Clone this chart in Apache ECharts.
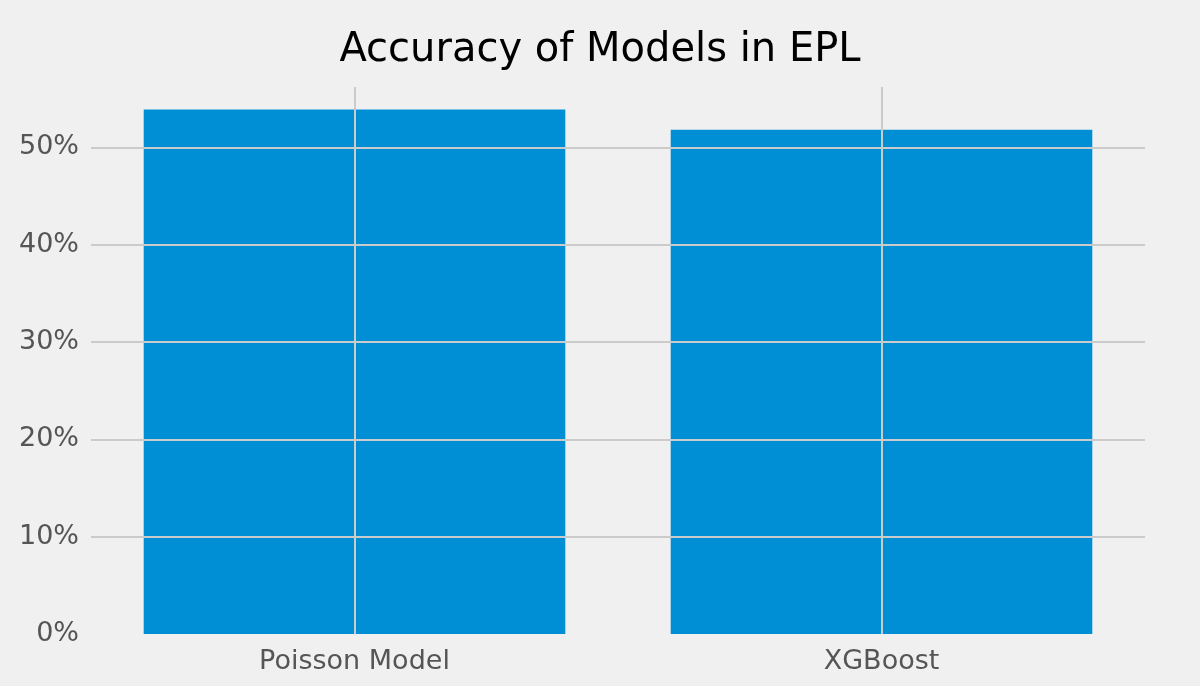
<!DOCTYPE html>
<html><head><meta charset="utf-8">
<script src="https://cdn.jsdelivr.net/npm/echarts@6/dist/echarts.min.js"></script>
<style>html,body{margin:0;padding:0;background:#f0f0f0}#c{width:1200px;height:686px}</style>
</head><body><div id="c"></div>
<script>
const categories = ['Poisson Model', 'XGBoost'];
const accuracy = [53.9, 51.8];
const yTicks = [0, 10, 20, 30, 40, 50];
const chart = echarts.init(document.getElementById('c'));
chart.setOption({
  backgroundColor: '#f0f0f0',
  textStyle: { fontFamily: 'DejaVu Sans' },
  title: { text: 'Accuracy of Models in EPL', left: 'center', top: 26,
    textStyle: { fontFamily: 'DejaVu Sans', fontSize: 40, fontWeight: 'normal', color: '#000' } },
  grid: { left: 91, right: 55, top: 87, bottom: 52 },
  xAxis: { type: 'category', data: categories,
    axisLine: { show: false }, axisTick: { show: false },
    axisLabel: { fontSize: 27, color: '#555', margin: 14 } },
  yAxis: { type: 'value', min: 0, max: 56.2, interval: 10,
    axisLine: { show: false }, axisTick: { show: false },
    axisLabel: { fontSize: 27, color: '#555', margin: 12,
      formatter: v => yTicks.includes(Math.round(v*1000)/1000) ? v + '%' : '' },
    splitLine: { show: false } },
  series: [
    { type: 'line', data: [], silent: true, z: 1,
      markLine: { symbol: 'none', silent: true, label: { show: false },
        lineStyle: { color: '#cbcbcb', width: 2, type: 'solid' },
        data: yTicks.slice(1).map(v => ({ yAxis: v })).concat(categories.map(c => ({ xAxis: c }))) } },
    { type: 'bar', data: accuracy, barWidth: '80%', z: 3,
      itemStyle: { color: '#008fd5' } }
  ]
});
</script></body></html>
